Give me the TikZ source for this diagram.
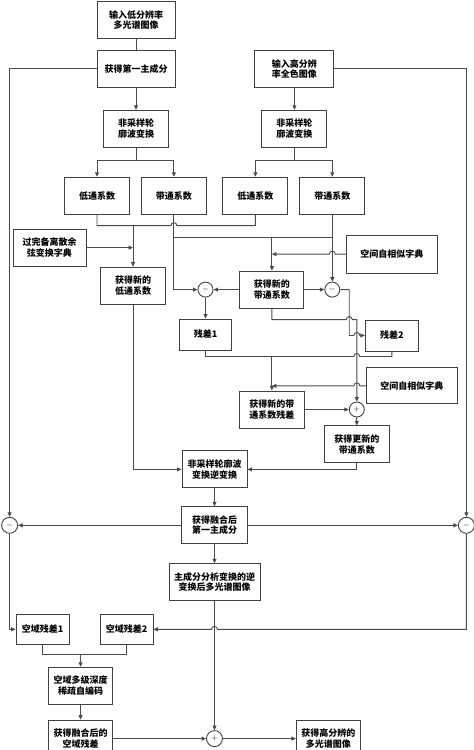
\documentclass[tikz,border=0pt]{standalone}
\usepackage{fontspec}
\setmainfont{Noto Sans CJK SC}
\usetikzlibrary{arrows.meta,positioning,calc}
\definecolor{Edge}{HTML}{404040}
\definecolor{Gray}{HTML}{4A4A4A}
\tikzset{
  box/.style={draw=Edge,line width=.9pt,minimum width=65pt,minimum height=37pt,
    align=center,inner sep=2pt,font=\fontsize{9}{10.5}\selectfont\bfseries},
  sumpt/.style={circle,draw=Edge,line width=.9pt,minimum size=15pt,inner sep=0pt,
    font=\footnotesize},
  link/.style={draw=Gray,line width=.9pt},
  arrow/.style={link,-{Triangle[length=4.5pt,width=4pt]}}
}

\begin{document}
\begin{tikzpicture}[x=1pt,y=-1pt]
    \useasboundingbox (0,0) rectangle (474,750);

    % two inputs and the contourlet transforms
    \node[box,minimum width=78pt] (inlow) at (136,20) {输入低分辨率\\多光谱图像};
    \node[box,minimum width=78pt,below=11pt of inlow] (pc1) {获得第一主成分};
    \node[box,below=22pt of pc1] (nsctL) {非采样轮\\廓波变换};
    \node[box,below=29pt of nsctL,xshift=-39pt] (lowL) {低通系数};
    \node[box,right=11pt of lowL] (bandL) {带通系数};
    \node[box,minimum width=79pt,right=79pt of pc1] (inhigh) {输入高分辨\\率全色图像};
    \node[box,below=22pt of inhigh] (nsctR) {非采样轮\\廓波变换};
    \node[box,below=29pt of nsctR,xshift=-39pt] (lowR) {低通系数};
    \node[box,right=11pt of lowR] (bandR) {带通系数};

    % coefficient fusion
    \node[box,minimum width=73pt,below=14pt of lowL,xshift=-47.5pt] (dct) {过完备离散余\\弦变换字典};
    \node[box,below=52pt of lowL,xshift=36pt] (newlow) {获得新的\\低通系数};
    \node[sumpt,below=67pt of bandR] (sub2) {$-$};
    \node[box,minimum width=64pt,left=20pt of sub2] (newband) {获得新的\\带通系数};
    \node[sumpt,left=26pt of newband] (sub1) {$-$};
    \node[box,minimum width=91pt,minimum height=38pt,below=20pt of bandR,xshift=59.5pt] (dictA) {空间自相似字典};
    \node[box,minimum width=52pt,minimum height=31pt,below=21pt of sub1] (res1) {残差1};
    \node[box,minimum width=53pt,minimum height=31pt,below=46pt of dictA] (res2) {残差2};
    \node[box,minimum width=91pt,minimum height=36pt,below=16pt of res2,xshift=20pt] (dictB) {空间自相似字典};
    \node[box,below=82pt of newband] (bandres) {获得新的带\\通系数残差};
    \node[sumpt,right=44pt of bandres] (add1) {$+$};
    \node[box,below=8pt of add1] (updband) {获得更新的\\带通系数};

    % inverse transforms
    \node[box,below=100pt of res1,xshift=9pt] (insct) {非采样轮廓波\\变换逆变换};
    \node[box,minimum width=66pt,below=18pt of insct] (fusepc) {获得融合后\\第一主成分};
    \node[sumpt,minimum size=16pt,left=163pt of fusepc] (subL) {$-$};
    \node[sumpt,minimum size=16pt,right=210pt of fusepc] (subR) {$-$};
    \node[box,minimum width=91pt,below=19pt of fusepc] (ipca) {主成分分析变换的逆\\变换后多光谱图像};

    % spatial residuals
    \node[sumpt,minimum size=16pt,below=129pt of ipca] (add2) {$+$};
    \node[box,minimum width=64pt,left=93pt of add2] (fres) {获得融合后的\\空域残差};
    \node[box,minimum width=64pt,right=73pt of add2] (out) {获得高分辨的\\多光谱图像};
    \node[box,minimum width=64pt,above=15pt of fres] (sae) {空域多级深度\\稀疏自编码};
    \node[box,minimum width=53pt,minimum height=30pt,above=22pt of sae,xshift=-38pt] (sres1) {空域残差1};
    \node[box,minimum width=53pt,minimum height=30pt,right=30pt of sres1] (sres2) {空域残差2};

    % bus levels
    \path (nsctL.south) ++(0,13) coordinate (splitL);
    \path (nsctR.south) ++(0,13) coordinate (splitR);
    \path (lowL.south) ++(0,11) coordinate (lowbus);
    \path (bandL.south) ++(0,23) coordinate (bandbus);
    \path (newband.south) ++(0,11) coordinate (nbbus);
    \path (res1.south) ++(0,6) coordinate (resbus);
    \path (sub2.east) ++(9,0) coordinate (hop1);
    \path (sres1.south) ++(0,10) coordinate (aebus);

    \draw[link] (inlow) -- (pc1);
    \draw[arrow] (pc1) -- (nsctL);
    \draw[arrow] (inhigh) -- (nsctR);
    \draw[link] (nsctL) -- (splitL);
    \draw[arrow] (splitL) -| (lowL.north);
    \draw[arrow] (splitL) -| (bandL.north);
    \draw[link] (nsctR) -- (splitR);
    \draw[arrow] (splitR) -| (lowR.north);
    \draw[arrow] (splitR) -| (bandR.north);

    \draw[link] (lowL.south) |- ($(bandL.south |- lowbus)+(-3,0)$)
      arc[start angle=180,end angle=0,radius=3pt] -| (lowR.south);
    \draw[arrow] (newlow.north |- lowbus) -- (newlow);
    \draw[arrow] (dct.east) -- (dct.east -| newlow.north);

    \draw[link] (bandL.south |- bandbus) -- (bandR.south |- bandbus);
    \draw[arrow] (bandL.south) |- (sub1.west);
    \draw[arrow] (bandR.south) -- (sub2.north);
    \draw[arrow] (newband.north |- bandbus) -- (newband);
    \draw[arrow] (dictA.west) -- ($(bandR.south |- dictA.west)+(3,0)$)
      arc[start angle=0,end angle=180,radius=3pt] -- (dictA.west -| newband.north);
    \draw[arrow] (newband) -- (sub1);
    \draw[arrow] (newband) -- (sub2);
    \draw[arrow] (sub1) -- (res1);
    \draw[arrow] (sub2.east) -- (hop1) -- (hop1 |- res2.west)
      -- ($(add1.north |- res2.west)+(-3,0)$) arc[start angle=180,end angle=0,radius=3pt] -- (res2.west);
    \draw[arrow] (newband.south) |- ($(hop1 |- nbbus)+(-3,0)$)
      arc[start angle=180,end angle=0,radius=3pt] -| (add1.north);
    \draw[link] (res1.south) |- ($(add1.north |- resbus)+(-3,0)$)
      arc[start angle=180,end angle=0,radius=3pt] -| (res2.south);
    \draw[arrow] (bandres.north |- resbus) -- (bandres);
    \draw[arrow] (dictB.west) -- ($(add1.north |- dictB.west)+(3,0)$)
      arc[start angle=0,end angle=180,radius=3pt] -- (dictB.west -| bandres.north);
    \draw[arrow] (bandres) -- (add1);
    \draw[arrow] (add1) -- (updband);
    \draw[arrow] (updband.south) |- (insct.east);
    \draw[arrow] (newlow.south) |- (insct.west);

    \draw[arrow] (insct) -- (fusepc);
    \draw[arrow] (fusepc) -- (ipca);
    \draw[arrow] (fusepc) -- (subL);
    \draw[arrow] (fusepc) -- (subR);
    \draw[arrow] (pc1.west) -| (subL.north);
    \draw[arrow] (inhigh.east) -| (subR.north);
    \draw[arrow] (subL.south) |- (sres1.west);
    \draw[arrow] (subR.south) |- ($(ipca.south |- sres2.east)+(3,0)$)
      arc[start angle=0,end angle=180,radius=3pt] -- (sres2.east);
    \draw[arrow] (ipca) -- (add2);

    \draw[link] (sres1.south) |- (sres2.south |- aebus) -- (sres2.south);
    \draw[arrow] (sae.north |- aebus) -- (sae);
    \draw[arrow] (sae) -- (fres);
    \draw[arrow] (fres) -- (add2);
    \draw[arrow] (add2) -- (out);
  \end{tikzpicture}
\end{document}
